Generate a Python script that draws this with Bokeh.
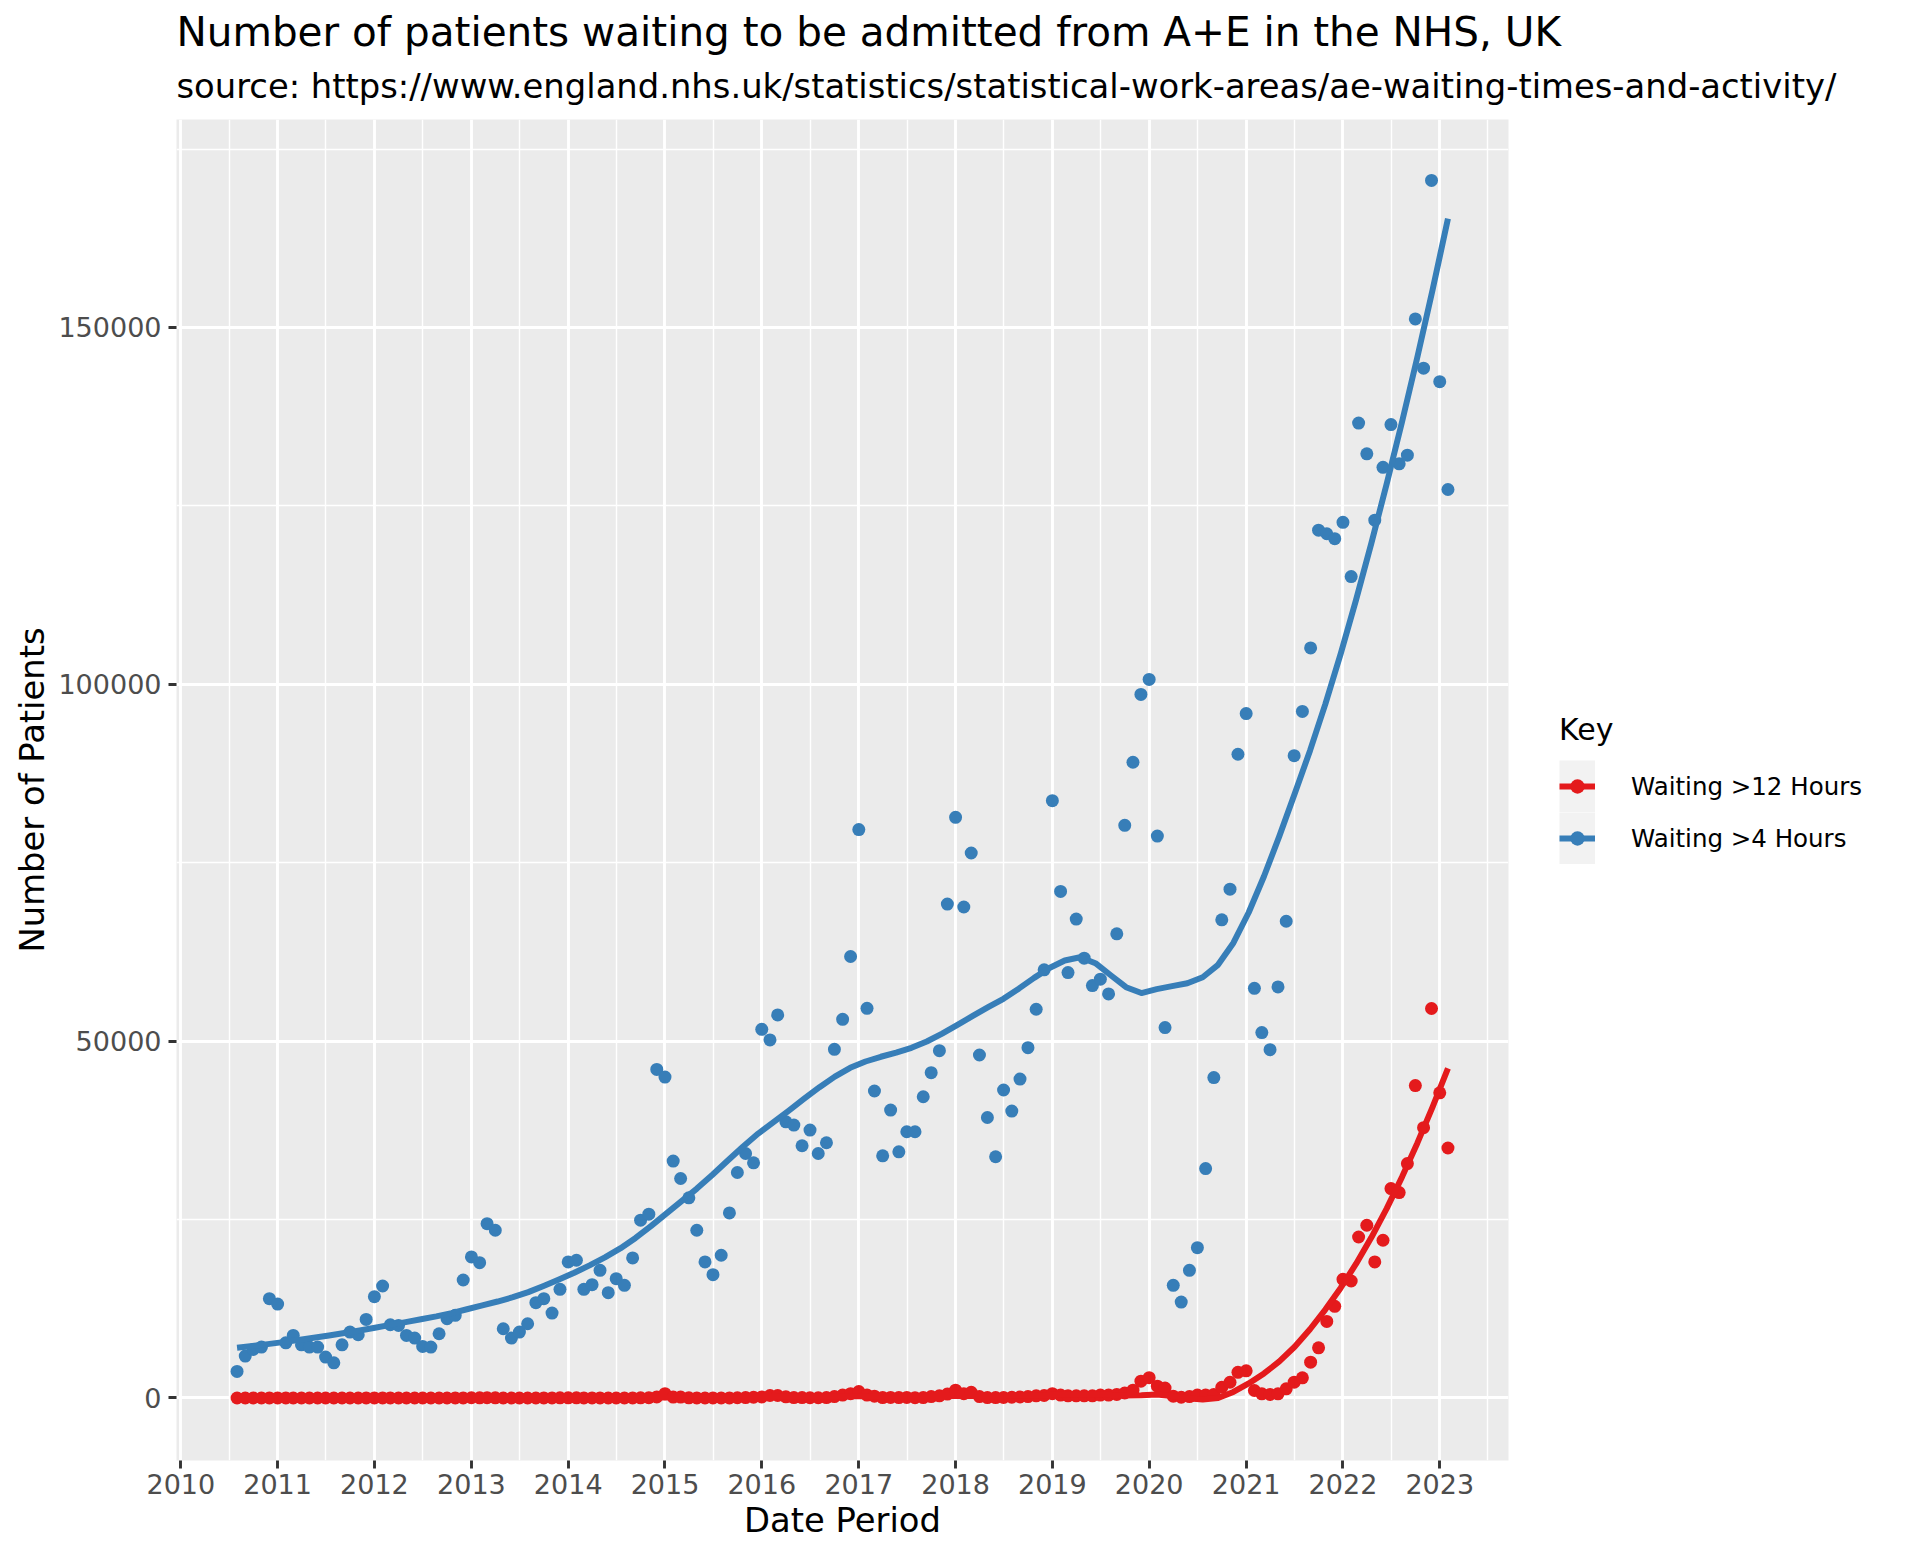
import numpy as np
import pandas as pd
from bokeh.plotting import figure
from bokeh.models import (ColumnDataSource, Range1d, FixedTicker, DatetimeTickFormatter,
                          NumeralTickFormatter, Legend, LegendItem, Title)
from bokeh.core.properties import value
from bokeh.embed import file_html
from bokeh.resources import INLINE

FONT = "DejaVu Sans"
TITLE = "Number of patients waiting to be admitted from A+E in the NHS, UK"
SUBTITLE = "source: https://www.england.nhs.uk/statistics/statistical-work-areas/ae-waiting-times-and-activity/"
X_LABEL = "Date Period"
Y_LABEL = "Number of Patients"
LEGEND_TITLE = "Key"
FIRST_MONTH = "2010-08-01"   # monthly series, Aug 2010 .. Feb 2023

# Waiting >4 Hours (monthly)
waiting_4h = [
    3720, 5870, 6800, 7130, 13910,
    13160, 7730, 8770, 7450, 7130, 7130, 5730, 4930, 7450, 9230, 8860, 11010,
    14190, 15690, 10260, 10170, 8770, 8390, 7220, 7130, 9000, 11100, 11580, 16530,
    19760, 18960, 24430, 23500, 9700, 8390, 9230, 10400, 13350, 13910, 11900, 15230,
    19060, 19300, 15230, 15870, 17890, 14750, 16720, 15790, 19620, 24910, 25750, 46040,
    44970, 33190, 30750, 28040, 23500, 19060, 17280, 20000, 25930, 31590, 34260, 32950,
    51660, 50170, 53680, 38700, 38240, 35340, 37540, 34260, 35760, 48850, 53060, 61860,
    79640, 54600, 43010, 33930, 40340, 34490, 37300, 37300, 42210, 45580, 48670, 69200,
    81360, 68800, 76360, 48060, 39300, 33800, 43150, 40200, 44690, 49090, 54470, 59990,
    83700, 70980, 59610, 67100, 61620, 57790, 58680, 56620, 65040, 80240, 89080, 98580,
    100690, 78740, 51900, 15790, 13440, 17890, 21060, 32150, 44900, 67000, 71300, 90200,
    95900, 57400, 51200, 48800, 57600, 66800, 90000, 96200, 105100, 121600, 121100, 120400,
    122700, 115100, 136600, 132300, 123000, 130400, 136400, 130900, 132100, 151200, 144300, 170600,
    142400, 127300,
]

# Waiting >12 Hours (monthly)
waiting_12h = [
    0, 0, 0, 0, 5,
    5, 2, 0, 0, 0, 0, 0, 0, 0, 0, 0, 5,
    10, 5, 5, 0, 0, 0, 0, 0, 0, 0, 5, 10,
    30, 20, 40, 20, 0, 0, 0, 0, 0, 10, 5, 15,
    20, 15, 10, 5, 5, 0, 0, 0, 10, 20, 30, 150,
    600, 130, 130, 20, 10, 0, 5, 0, 10, 30, 60, 100,
    150, 350, 350, 160, 60, 60, 30, 30, 60, 200, 400, 600,
    900, 400, 250, 50, 80, 60, 80, 40, 60, 200, 300, 550,
    1100, 600, 800, 200, 50, 60, 70, 100, 150, 200, 300, 350,
    600, 400, 300, 300, 300, 300, 400, 400, 500, 700, 1100, 2350,
    2850, 1650, 1400, 250, 100, 200, 400, 400, 500, 1500, 2200, 3600,
    3800, 1050, 580, 490, 580, 1280, 2220, 2830, 5020, 7030, 10730, 12840,
    16630, 16390, 22560, 24200, 19060, 22100, 29340, 28780, 32850, 43780, 37870, 54570,
    42760, 35030,
]

series_labels = ["Waiting >12 Hours", "Waiting >4 Hours"]
series_colors = ["#E41A1C", "#377EB8"]
legend_key_fill = "#F2F2F2"
year_ticks = list(range(2010, 2024))
y_ticks = [0, 50000, 100000, 150000]
y_minor_ticks = [25000, 75000, 125000, 175000]
SPAN = 0.4


def r_loess(x, y, xout, span=0.75, cell=0.2):
    """Local quadratic regression in the manner of R's loess (kd-tree vertices + Hermite interpolation)."""
    x = np.asarray(x, float)
    y = np.asarray(y, float)
    n = len(x)
    xs = np.sort(x)
    q = int(np.floor(n * span + 1e-5))
    fc = int(np.floor(n * span * cell))
    lo, hi = xs[0], xs[-1]
    mu = 0.005 * max(hi - lo, 1e-10 * max(abs(lo), abs(hi)) + 1e-30)
    cuts = []

    def split(l, u):
        if u - l + 1 <= fc:
            return
        m = (l + u) // 2
        cuts.append(xs[m - 1])
        split(l, m)
        split(m + 1, u)

    split(1, n)
    verts = np.array(sorted(set([lo - mu, hi + mu] + cuts)))

    def local(v):
        d = np.abs(x - v)
        rho = np.sort(d)[q - 1]
        r = d / rho
        w = np.where(r < 1.0, (1.0 - r ** 3) ** 3, 0.0)
        t = x - v
        sw = np.sqrt(w)
        A = np.column_stack([np.ones(n), t, t * t]) * sw[:, None]
        coef = np.linalg.lstsq(A, y * sw, rcond=None)[0]
        return coef[0], coef[1]

    fits = np.array([local(v) for v in verts])
    out = np.empty(len(xout))
    for j, z in enumerate(xout):
        k = int(np.searchsorted(verts, z, side="right") - 1)
        k = min(max(k, 0), len(verts) - 2)
        v0, v1 = verts[k], verts[k + 1]
        h = v1 - v0
        u = (z - v0) / h
        g0, s0 = fits[k]
        g1, s1 = fits[k + 1]
        phi0 = (1 - u) ** 2 * (1 + 2 * u)
        phi1 = u ** 2 * (3 - 2 * u)
        psi0 = u * (1 - u) ** 2
        psi1 = -u ** 2 * (1 - u)
        out[j] = phi0 * g0 + phi1 * g1 + (psi0 * s0 + psi1 * s1) * h
    return out


MS_PER_DAY = 86400000.0
dates = pd.date_range(FIRST_MONTH, periods=len(waiting_4h), freq="MS")
epoch = pd.Timestamp("1970-01-01")
days = np.array([(d - epoch).days for d in dates], dtype=float)
x_ms = days * MS_PER_DAY
xyears = days / 365.25

xseq_days = np.linspace(days.min(), days.max(), 80)
xseq_ms = xseq_days * MS_PER_DAY
fit_12h = r_loess(xyears, waiting_12h, xseq_days / 365.25, span=SPAN)
fit_4h = r_loess(xyears, waiting_4h, xseq_days / 365.25, span=SPAN)

# ggplot-like 5% expansion of the data range
dspan = days.max() - days.min()
x_start = (days.min() - 0.05 * dspan) * MS_PER_DAY
x_end = (days.max() + 0.05 * dspan) * MS_PER_DAY
all_y = np.concatenate([waiting_4h, waiting_12h, fit_4h, fit_12h])
ylo, yhi = all_y.min(), all_y.max()
ypad = 0.05 * (yhi - ylo)

p = figure(frame_width=1332, frame_height=1341, x_axis_type="datetime",
           x_range=Range1d(x_start, x_end), y_range=Range1d(ylo - ypad, yhi + ypad),
           output_backend="svg", toolbar_location=None,
           min_border_left=176, min_border_right=396, min_border_top=119, min_border_bottom=90,
           background_fill_color="#EBEBEB", border_fill_color="white", outline_line_color=None)

# titles (subtitle first = closest to the frame)
sub = Title(text=SUBTITLE, text_font=FONT, text_font_size="33.8px", text_font_style="normal",
            text_color="black", align="left", vertical_align="top", standoff=23, offset=0)
main = Title(text=TITLE, text_font=FONT, text_font_size="40.5px", text_font_style="normal",
             text_color="black", align="left", vertical_align="bottom", standoff=0, offset=0)
p.add_layout(sub, "above")
p.add_layout(main, "above")

# axes, ticks, grid
year_ms = [(pd.Timestamp(f"{y}-01-01") - epoch).days * MS_PER_DAY for y in year_ticks]
half_ms = [(pd.Timestamp(f"{y}-07-02") - epoch).days * MS_PER_DAY for y in year_ticks]
xticker = FixedTicker(ticks=year_ms, minor_ticks=half_ms)
yticker = FixedTicker(ticks=y_ticks, minor_ticks=y_minor_ticks)
p.xaxis[0].ticker = xticker
p.yaxis[0].ticker = yticker
p.xgrid[0].ticker = xticker
p.ygrid[0].ticker = yticker
p.xaxis[0].formatter = DatetimeTickFormatter(years="%Y", months="%Y", days="%Y", hours="%Y",
                                             hourmin="%Y", minutes="%Y", minsec="%Y",
                                             seconds="%Y", milliseconds="%Y", microseconds="%Y")
p.yaxis[0].formatter = NumeralTickFormatter(format="0")

for ax in (p.xaxis[0], p.yaxis[0]):
    ax.axis_line_color = None
    ax.major_tick_line_color = "#333333"
    ax.major_tick_line_width = 2.9
    ax.major_tick_out = 8
    ax.major_tick_in = 0
    ax.minor_tick_line_color = None
    ax.major_label_text_font = FONT
    ax.major_label_text_font_size = "27px"
    ax.major_label_text_color = "#4D4D4D"
    ax.axis_label_text_font = FONT
    ax.axis_label_text_font_size = "33.8px"
    ax.axis_label_text_font_style = "normal"
    ax.axis_label_text_color = "black"
p.xaxis[0].axis_label = X_LABEL
p.yaxis[0].axis_label = Y_LABEL
p.xaxis[0].major_label_standoff = 5
p.yaxis[0].major_label_standoff = 7
p.xaxis[0].axis_label_standoff = 4
p.yaxis[0].axis_label_standoff = 3

for g in (p.xgrid[0], p.ygrid[0]):
    g.grid_line_color = "white"
    g.grid_line_width = 2.9
    g.minor_grid_line_color = "white"
    g.minor_grid_line_width = 1.45

# data: points, then loess smooths
src12 = ColumnDataSource(dict(x=x_ms, y=waiting_12h))
src4 = ColumnDataSource(dict(x=x_ms, y=waiting_4h))
fit12 = ColumnDataSource(dict(x=xseq_ms, y=fit_12h))
fit4 = ColumnDataSource(dict(x=xseq_ms, y=fit_4h))

pts12 = p.scatter("x", "y", source=src12, size=13, fill_color=series_colors[0], line_color=None)
pts4 = p.scatter("x", "y", source=src4, size=13, fill_color=series_colors[1], line_color=None)
ln12 = p.line("x", "y", source=fit12, line_width=6, line_color=series_colors[0],
              line_join="round", line_cap="butt")
ln4 = p.line("x", "y", source=fit4, line_width=6, line_color=series_colors[1],
             line_join="round", line_cap="butt")

# legend key background: zero-length segment at the first observation (draws nothing in the
# plot), whose legend swatch is a wide grey band filling the key box
key_src = ColumnDataSource(dict(x0=x_ms[:1], y0=waiting_12h[:1], x1=x_ms[:1], y1=waiting_12h[:1]))
key_bg = p.segment("x0", "y0", "x1", "y1", source=key_src, line_color=legend_key_fill,
                   line_width=52, line_cap="butt")

legend = Legend(
    items=[LegendItem(label=value(series_labels[0]), renderers=[key_bg, ln12, pts12]),
           LegendItem(label=value(series_labels[1]), renderers=[key_bg, ln4, pts4])],
    location=(51, 595.8), title=LEGEND_TITLE,
    glyph_width=36, glyph_height=52, label_standoff=36, spacing=0, padding=0, margin=0,
    border_line_color=None, background_fill_alpha=0,
    label_text_font=FONT, label_text_font_size="24.5px", label_text_color="black",
    title_text_font=FONT, title_text_font_size="30px", title_text_font_style="normal",
    title_text_color="black", title_standoff=13)
p.add_layout(legend, "right")

open("out.html", "w").write(file_html(p, INLINE))
